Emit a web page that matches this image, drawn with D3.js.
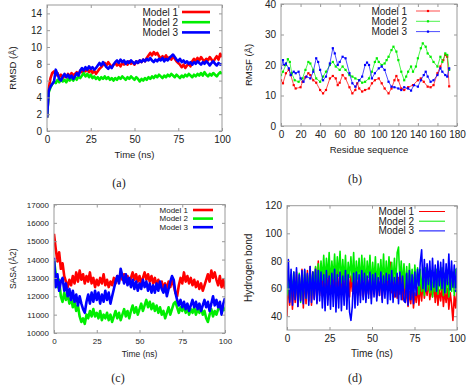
<!DOCTYPE html>
<html>
<head>
<meta charset="utf-8">
<script src="https://cdn.jsdelivr.net/npm/d3@7"></script>
<style>
  html, body { margin: 0; padding: 0; background: #fff; }
  svg { display: block; }
  text { font-family: "Liberation Sans", Arial, sans-serif; fill: #222; }
</style>
</head>
<body>
<svg id="chart" width="474" height="389"></svg>
<script>
// legend names and colours
const models = ['Model 1', 'Model 2', 'Model 3'];
const colors = ['#ff0000', '#00ee00', '#0000ff'];

// (a) RMSD, one value per ns, 0..100
const rmsd1 = [1.6,5.0,6.3,6.9,7.1,6.6,6.9,6.4,6.7,6.3,6.6,6.4,6.8,6.5,6.9,6.6,6.8,7.0,6.7,7.2,7.0,7.3,7.1,7.4,7.0,7.3,6.9,7.2,6.8,7.1,7.4,7.6,7.9,8.1,7.8,8.2,7.9,7.6,7.9,8.1,7.8,8.0,7.7,8.1,7.9,8.2,7.9,8.3,8.0,8.2,7.9,8.3,8.1,8.4,8.2,8.5,8.3,8.7,9.0,9.3,9.0,9.4,9.1,9.3,8.9,8.6,8.9,8.7,9.0,8.6,8.8,8.5,8.9,8.6,8.3,8.1,7.9,7.6,7.9,7.5,7.8,8.0,7.7,8.3,8.6,8.3,8.7,8.4,8.8,8.5,8.3,8.6,8.4,8.8,8.5,8.2,8.6,8.9,8.5,9.2,8.8];
const rmsd2 = [1.6,4.6,5.2,5.6,5.9,5.7,6.1,5.8,6.2,5.9,6.1,5.8,6.2,6.0,6.3,6.0,6.4,6.1,6.5,6.3,6.6,6.9,6.5,6.8,6.4,6.7,6.3,6.5,6.2,6.4,6.1,6.4,6.2,6.5,6.2,6.4,6.1,6.3,6.0,6.3,6.1,6.4,6.2,6.5,6.3,6.1,6.4,6.2,6.5,6.3,6.1,6.4,6.2,5.9,6.2,6.0,6.3,6.1,6.4,6.2,6.5,6.3,6.6,6.4,6.7,6.5,6.3,6.6,6.4,6.7,6.5,6.8,6.6,6.4,6.7,6.5,6.3,6.6,6.4,6.7,6.5,6.8,6.6,6.4,6.7,6.5,6.8,6.6,6.9,6.6,7.0,6.7,6.5,6.8,6.6,6.9,6.7,6.5,6.8,7.0,6.8];
const rmsd3 = [1.6,4.8,5.3,5.6,5.9,7.3,6.8,6.2,6.0,6.5,6.8,6.4,6.7,6.3,6.6,6.2,6.5,6.9,6.6,7.2,7.5,7.2,7.6,7.3,7.7,7.4,7.6,7.3,7.5,7.8,8.1,7.8,8.2,7.9,7.6,7.4,7.7,7.5,7.9,8.2,8.4,8.1,8.5,8.2,8.4,8.0,8.3,8.1,8.4,8.2,8.0,8.3,8.1,8.4,8.2,8.5,8.3,8.6,8.4,8.7,8.4,8.2,8.5,8.3,8.6,8.4,8.7,8.3,8.6,8.4,8.7,8.9,9.1,8.8,8.5,8.3,8.6,8.2,8.4,8.1,8.3,8.0,8.2,7.9,8.2,8.0,8.3,8.1,7.9,8.2,8.0,8.3,8.1,7.8,8.1,8.3,8.0,7.8,8.1,7.9,8.0];

// (b) RMSF, [residue, value]
const rmsf1 = [[0,15],[2,14],[5,17.3],[8,18.4],[10,16.7],[13,13.4],[15,12.3],[20,12.7],[22,14.5],[25,16],[28,17.3],[30,16.7],[33,15],[36,14.2],[40,11.8],[43,10.7],[46,11.8],[50,15.6],[53,16.4],[56,15.6],[58,13.4],[60,14.2],[63,16.7],[66,15.6],[70,12.7],[73,10.7],[76,11.8],[78,14],[80,12.3],[83,11.3],[86,11.8],[90,12.3],[93,14],[96,15],[100,15.6],[103,14],[106,12.3],[110,10.7],[113,12.3],[116,15],[118,16.4],[120,15],[123,12.3],[126,11.8],[130,12.7],[135,13.4],[140,15],[143,15.6],[146,14.5],[150,12.9],[153,12.7],[156,13.4],[160,17.3],[163,19.5],[166,21.6],[168,23.3],[170,22.7],[172,13]];
const rmsf2 = [[0,16.7],[2,17.8],[5,20],[7,21.9],[9,21],[11,17.3],[14,15],[18,14.5],[22,15.6],[25,18.4],[28,21],[30,20.5],[33,18.4],[36,15.6],[40,14.5],[43,16.2],[46,17.8],[50,20],[53,21],[56,19.5],[60,18.4],[63,19.5],[66,18.4],[70,16.7],[73,16.2],[76,15.6],[80,15],[83,14.2],[86,14.5],[90,15.6],[93,17.8],[96,21],[98,22.2],[100,21],[103,20],[106,20.5],[108,21.6],[110,22.7],[113,24.9],[115,26],[118,24.4],[120,21.6],[123,17.8],[126,15],[128,16.2],[130,17.8],[133,19.5],[135,17.8],[138,19.5],[140,22.2],[143,25.5],[145,27.1],[148,26],[150,23.8],[153,22.7],[156,21],[160,19.5],[163,22.7],[165,21],[168,23.8],[170,23.3],[172,18.4]];
const rmsf3 = [[0,18.9],[2,21.6],[3,20],[5,20.5],[8,18.9],[10,16.7],[13,17.8],[15,17.3],[18,17.8],[20,15.6],[23,14.5],[26,16.2],[30,15.6],[33,17.8],[36,22.2],[38,21],[40,18.4],[43,15],[46,16.2],[50,20.5],[53,25.5],[55,23.8],[58,20],[60,21],[63,22.7],[66,22.2],[70,17.3],[73,14],[76,12.9],[80,15],[83,16.2],[86,20],[88,20.8],[90,20],[93,15.6],[96,17.3],[100,18.9],[103,19.5],[106,18.4],[110,14.5],[113,12.9],[116,12.7],[120,12.3],[123,11.8],[126,12.7],[130,12.3],[133,11.6],[136,13.4],[140,12.9],[143,15],[146,16.7],[148,17.8],[150,16.2],[153,14.5],[156,15],[160,16.7],[163,18.9],[165,17.8],[168,16.7],[170,16.2],[172,18.9]];

// (c) SASA, one value per ns, 0..100
const sasa1 = [15400,14600,13900,14400,13500,13800,13100,12800,12500,12900,12600,13100,12700,13300,12800,13400,12900,13200,12700,13100,12800,13300,12700,13000,12500,12900,12600,13000,12700,13200,12600,12900,12500,12800,12600,13000,12700,13100,12800,13300,12900,13200,12800,13100,12700,13000,13300,12900,13200,12800,13100,12700,13000,13300,12900,13200,12800,13100,12700,13000,12600,12900,12500,12800,12400,12700,12300,12800,12500,12900,12600,12200,12000,12600,13000,12700,13300,12800,13100,12700,13000,12600,12900,12500,12800,12400,12700,12300,12600,12900,13200,12800,13400,13000,13300,12900,12600,13100,12500,12900,12400];
const sasa2 = [14000,13200,12500,12900,12000,11700,12200,11800,12100,11600,11900,11400,11700,11200,11500,10900,10600,10800,10500,11000,10800,11200,10900,11300,10900,11100,10800,11200,10700,11000,10800,11100,10700,11000,10600,10900,11200,10800,11100,10700,11000,11300,10900,11200,10800,11200,11500,11100,11400,11000,11300,11600,11200,11500,11800,11400,11700,11300,11600,11200,11500,11100,11400,11000,11200,10800,11100,11400,11000,11300,11600,11700,11400,11100,11400,11200,11500,11100,11400,11000,11300,11100,11400,11000,11300,11100,11400,11000,11200,10800,10600,11000,11300,10900,11200,11000,11300,11500,11100,11400,11200];
const sasa3 = [14100,12500,13200,12300,12800,13000,12300,12700,12000,12400,11800,12300,11700,12100,11500,12000,11600,11300,11100,11700,12100,11600,12200,11700,12300,11800,12200,11600,12100,11700,12300,11800,12200,11600,12000,12400,12800,13100,12700,13500,13100,12700,13200,12600,13000,12500,12900,12400,12800,12300,12700,12400,12900,12500,12800,12300,12700,12200,12600,12200,12700,12300,12800,12400,12200,12600,12000,12400,12800,13100,12900,12200,11800,11500,11800,11400,11700,11300,11600,11200,11500,11800,11400,11700,11300,11600,11200,11500,11800,11400,11700,11200,11600,12000,11500,11800,11400,11700,11000,11600,11900];

// (d) hydrogen bonds, 126 samples spread over 0..100 ns
const hb1 = [40,66,48,70,45,64,50,72,47,68,52,74,46,70,49,73,51,76,48,72,53,75,50,80,55,
  78,54,72,57,76,52,74,58,77,55,73,59,75,53,71,56,74,52,70,57,73,54,69,58,72,53,70,56,68,55,71,
  54,70,52,68,56,71,53,69,57,72,54,68,55,71,52,70,56,73,58,76,79,57,72,54,70,53,68,56,71,52,69,
  50,60,47,58,49,62,46,57,50,61,
  48,63,51,65,53,62,55,66,52,60,54,64,50,61,48,59,51,62,47,58,50,60,45,57,49,37,55,46,60];
const hb2 = [55,70,52,68,58,72,54,66,57,71,50,69,56,73,53,70,58,74,55,72,60,76,57,78,62,
  80,66,84,64,82,68,86,63,80,67,85,65,83,69,87,64,81,66,84,62,79,68,83,65,86,63,80,67,82,64,84,
  66,82,63,80,68,84,62,79,65,83,61,78,67,81,64,85,62,80,66,83,63,79,65,82,61,86,90,64,80,62,78,
  60,76,58,78,61,74,57,77,60,75,
  56,74,58,72,55,75,59,71,57,73,54,70,58,74,56,72,59,75,55,71,57,73,54,70,58,72,55,74,57];
const hb3 = [60,81,50,74,48,72,52,75,47,70,51,73,49,74,53,71,48,76,50,72,52,74,49,73,51,
  72,46,70,44,73,48,69,45,71,47,74,43,70,46,72,44,69,48,73,45,70,43,37,47,71,46,72,48,70,50,73,
  52,71,50,69,53,72,49,70,54,71,51,68,55,72,50,69,53,71,49,70,52,73,50,68,54,71,49,72,52,69,51,
  50,71,48,73,52,70,49,72,55,74,
  62,79,88,60,81,58,78,63,80,59,82,61,77,58,80,62,79,60,81,57,78,63,85,59,80,61,77,58,75];

// tick values
const timeTicks = [0, 25, 50, 75, 100];
const rmsdTicks = [0, 2, 4, 6, 8, 10, 12, 14];
const resTicks = [0, 20, 40, 60, 80, 100, 120, 140, 160, 180];
const rmsfTicks = [0, 10, 20, 30, 40];
const sasaTicks = [10000, 11000, 12000, 13000, 14000, 15000, 16000, 17000];
const hbTicks = [40, 60, 80, 100, 120];

const svg = d3.select('#chart');

// turn a per-ns series into [t, v] points
const timed = arr => arr.map((v, i) => [i * 100 / (arr.length - 1), v]);

function drawPanel(p) {
  const x = d3.scaleLinear().domain(p.xDomain).range([p.left, p.right]);
  const y = d3.scaleLinear().domain(p.yDomain).range([p.bottom, p.top]);
  const g = svg.append('g');

  // clip for data
  const clipId = 'clip_' + p.id;
  g.append('clipPath').attr('id', clipId)
    .append('rect')
    .attr('x', p.left).attr('y', p.top)
    .attr('width', p.right - p.left).attr('height', p.bottom - p.top);

  const line = d3.line().x(d => x(d[0])).y(d => y(d[1]));
  const data = g.append('g').attr('clip-path', `url(#${clipId})`);
  p.series.forEach((s, i) => {
    data.append('path')
      .datum(s)
      .attr('d', line)
      .attr('fill', 'none')
      .attr('stroke', colors[i])
      .attr('stroke-width', p.lineWidth)
      .attr('stroke-linejoin', 'round');
    if (p.points) {
      data.selectAll(null)
        .data(s)
        .enter()
        .append('rect')
        .attr('x', d => x(d[0]) - 1.1)
        .attr('y', d => y(d[1]) - 1.1)
        .attr('width', 2.2)
        .attr('height', 2.2)
        .attr('fill', colors[i]);
    }
  });

  // axes (ticks inward, mirrored)
  const tl = 3;
  const axisColor = '#999';
  const fmt = d3.format('d');
  const axB = d3.axisBottom(x).tickValues(p.xTicks).tickSize(-tl).tickPadding(5).tickFormat(fmt);
  const axT = d3.axisTop(x).tickValues(p.xTicks).tickSize(-tl).tickFormat('');
  const axL = d3.axisLeft(y).tickValues(p.yTicks).tickSize(-tl).tickPadding(5).tickFormat(fmt);
  const axR = d3.axisRight(y).tickValues(p.yTicks).tickSize(-tl).tickFormat('');
  const styleAxis = sel => {
    sel.select('.domain').remove();
    sel.selectAll('line').attr('stroke', axisColor);
    sel.selectAll('text')
      .attr('font-size', p.tickFont)
      .attr('font-family', '"Liberation Sans", Arial, sans-serif')
      .attr('fill', '#222');
  };
  g.append('g').attr('transform', `translate(0,${p.bottom})`).call(axB).call(styleAxis);
  g.append('g').attr('transform', `translate(0,${p.top})`).call(axT).call(styleAxis);
  g.append('g').attr('transform', `translate(${p.left},0)`).call(axL).call(styleAxis);
  g.append('g').attr('transform', `translate(${p.right},0)`).call(axR).call(styleAxis);

  // frame
  g.append('rect')
    .attr('x', p.left).attr('y', p.top)
    .attr('width', p.right - p.left).attr('height', p.bottom - p.top)
    .attr('fill', 'none')
    .attr('stroke', axisColor)
    .attr('stroke-width', 1);

  // axis titles
  g.append('text')
    .attr('x', (p.left + p.right) / 2)
    .attr('y', p.xTitleY)
    .attr('text-anchor', 'middle')
    .attr('font-size', p.titleFont)
    .text(p.xTitle);
  g.append('text')
    .attr('transform', `translate(${p.yTitleX},${(p.top + p.bottom) / 2}) rotate(-90)`)
    .attr('text-anchor', 'middle')
    .attr('font-size', p.titleFont)
    .text(p.yTitle);

  // legend
  models.forEach((m, i) => {
    const ly = p.legend.y + i * p.legend.dy;
    g.append('text')
      .attr('x', p.legend.x)
      .attr('y', ly)
      .attr('dy', '0.35em')
      .attr('text-anchor', 'end')
      .attr('font-size', p.legendFont)
      .text(m);
    g.append('line')
      .attr('x1', p.legend.x + p.legend.gap)
      .attr('x2', p.legend.x + p.legend.gap + p.legend.len)
      .attr('y1', ly).attr('y2', ly)
      .attr('stroke', colors[i])
      .attr('stroke-width', p.legendWidth || p.lineWidth);
    if (p.points) {
      g.append('rect')
        .attr('x', p.legend.x + p.legend.gap + p.legend.len / 2 - 1.1)
        .attr('y', ly - 1.1)
        .attr('width', 2.2).attr('height', 2.2)
        .attr('fill', colors[i]);
    }
  });

  // panel label
  g.append('text')
    .attr('x', p.tag.x)
    .attr('y', p.tag.y)
    .attr('dy', '0.35em')
    .attr('text-anchor', 'middle')
    .attr('font-size', 12)
    .style('font-family', '"Liberation Serif", "Times New Roman", serif')
    .text(p.tag.text);
}

drawPanel({
  id: 'a', left: 47, right: 222, top: 5, bottom: 131,
  xDomain: [0, 100], yDomain: [0, 15], xTicks: timeTicks, yTicks: rmsdTicks,
  series: [timed(rmsd1), timed(rmsd2), timed(rmsd3)],
  lineWidth: 2.6, points: false, tickFont: 10, titleFont: 9.5, legendFont: 10,
  xTitle: 'Time (ns)', xTitleY: 158, yTitle: 'RMSD (Å)', yTitleX: 16,
  legend: { x: 178, y: 12, dy: 10.2, gap: 4, len: 28 },
  tag: { x: 119, y: 183, text: '(a)' }
});

drawPanel({
  id: 'b', left: 281, right: 457, top: 4, bottom: 126,
  xDomain: [0, 180], yDomain: [0, 40], xTicks: resTicks, yTicks: rmsfTicks,
  series: [rmsf1, rmsf2, rmsf3],
  lineWidth: 0.7, points: true, tickFont: 10, titleFont: 9.5, legendFont: 10,
  xTitle: 'Residue sequence', xTitleY: 153, yTitle: 'RMSF (Å)', yTitleX: 252,
  legend: { x: 407, y: 11, dy: 10.3, gap: 9, len: 24 },
  tag: { x: 355, y: 179, text: '(b)' }
});

drawPanel({
  id: 'c', left: 54, right: 225, top: 204.5, bottom: 333,
  xDomain: [0, 100], yDomain: [10000, 17000], xTicks: timeTicks, yTicks: sasaTicks,
  series: [timed(sasa1), timed(sasa2), timed(sasa3)],
  lineWidth: 2.6, points: false, tickFont: 8, titleFont: 8.5, legendFont: 8,
  xTitle: 'Time (ns)', xTitleY: 357, yTitle: 'SASA (Å2)', yTitleX: 16,
  legend: { x: 188, y: 210, dy: 8.6, gap: 5, len: 20 },
  tag: { x: 118, y: 378, text: '(c)' }
});

drawPanel({
  id: 'd', left: 287, right: 457, top: 205.7, bottom: 330,
  xDomain: [0, 100], yDomain: [30, 120], xTicks: timeTicks, yTicks: hbTicks,
  series: [timed(hb1), timed(hb2), timed(hb3)],
  lineWidth: 1.6, legendWidth: 1, points: false, tickFont: 10, titleFont: 10, legendFont: 10,
  xTitle: 'Time (ns)', xTitleY: 357, yTitle: 'Hydrogen bond', yTitleX: 252,
  legend: { x: 414, y: 211.5, dy: 9.7, gap: 5, len: 26 },
  tag: { x: 355, y: 378, text: '(d)' }
});
</script>
</body>
</html>
